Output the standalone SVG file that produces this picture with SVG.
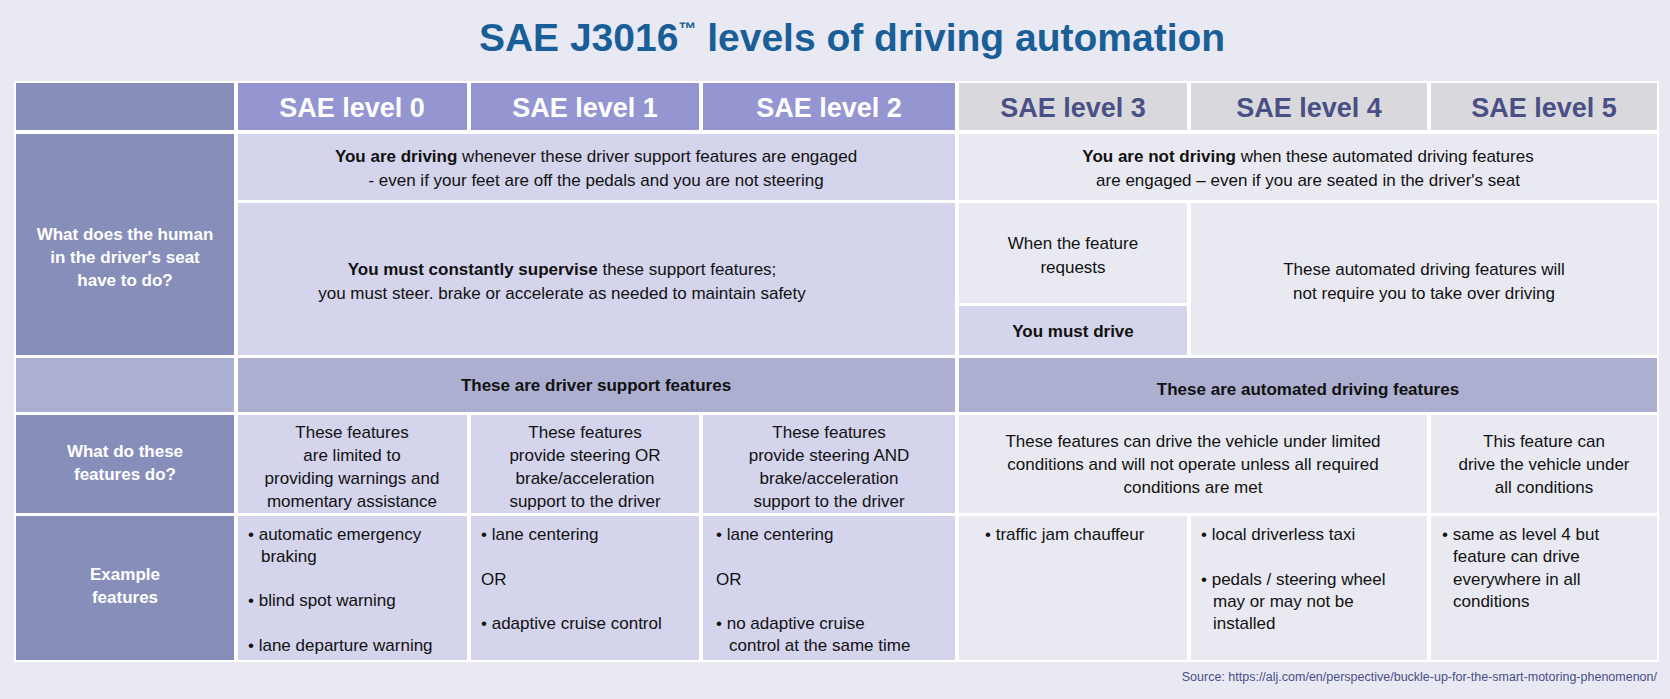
<svg xmlns="http://www.w3.org/2000/svg" width="1670" height="699" viewBox="0 0 1670 699">
<style>
text{font-family:"Liberation Sans",Arial,sans-serif;}
.lc{fill:#878EBA}.hp{fill:#9595D2}.hg{fill:#D9D9DD}.p{fill:#D4D4EC}.g{fill:#E9EAF1}.m{fill:#ACAFD0}
.ht{font-size:27px;font-weight:bold;text-anchor:middle}
.w{fill:#fff}.hd{fill:#4A4F85}
.t{font-size:17px;fill:#111;text-anchor:middle}
.l{font-size:17px;fill:#111}
.lb{font-size:17px;font-weight:bold;fill:#fff;text-anchor:middle}
b,.b{font-weight:bold}
</style>
<rect width="1670" height="699" fill="#E9E9F4"/>
<text x="852" y="51" font-size="39" font-weight="bold" fill="#1A5E97" text-anchor="middle">SAE J3016<tspan font-size="18" dy="-16">™</tspan><tspan dy="16"> levels of driving automation</tspan></text>
<rect x="14" y="81" width="1645" height="581" fill="#fff"/>
<g id="header">
<rect class="lc" x="16" y="83" width="218" height="47"/>
<rect class="hp" x="238" y="83" width="229" height="47"/><text class="ht w" x="352" y="117">SAE level 0</text>
<rect class="hp" x="471" y="83" width="228" height="47"/><text class="ht w" x="585" y="117">SAE level 1</text>
<rect class="hp" x="703" y="83" width="252" height="47"/><text class="ht w" x="829" y="117">SAE level 2</text>
<rect class="hg" x="959" y="83" width="228" height="47"/><text class="ht hd" x="1073" y="117">SAE level 3</text>
<rect class="hg" x="1191" y="83" width="236" height="47"/><text class="ht hd" x="1309" y="117">SAE level 4</text>
<rect class="hg" x="1431" y="83" width="226" height="47"/><text class="ht hd" x="1544" y="117">SAE level 5</text>
</g>
<g id="human">
<rect class="lc" x="16" y="134" width="218" height="221"/>
<text class="lb" x="125" y="240">What does the human</text>
<text class="lb" x="125" y="263">in the driver's seat</text>
<text class="lb" x="125" y="286">have to do?</text>
<rect class="p" x="238" y="134" width="717" height="66"/>
<text class="t" x="596" y="162"><tspan class="b">You are driving</tspan> whenever these driver support features are engaged</text>
<text class="t" x="596" y="186">- even if your feet are off the pedals and you are not steering</text>
<rect class="g" x="959" y="134" width="698" height="66"/>
<text class="t" x="1308" y="162"><tspan class="b">You are not driving</tspan> when these automated driving features</text>
<text class="t" x="1308" y="186">are engaged – even if you are seated in the driver's seat</text>
<rect class="p" x="238" y="203" width="717" height="152"/>
<text class="t" x="562" y="275"><tspan class="b">You must constantly supervise</tspan> these support features;</text>
<text class="t" x="562" y="299">you must steer. brake or accelerate as needed to maintain safety</text>
<rect class="g" x="959" y="203" width="228" height="100"/>
<text class="t" x="1073" y="249">When the feature</text>
<text class="t" x="1073" y="273">requests</text>
<rect class="p" x="959" y="306" width="228" height="49"/>
<text class="t b" x="1073" y="337">You must drive</text>
<rect class="g" x="1191" y="203" width="466" height="152"/>
<text class="t" x="1424" y="275">These automated driving features will</text>
<text class="t" x="1424" y="299">not require you to take over driving</text>
</g>
<g id="category">
<rect x="16" y="358" width="218" height="54" fill="#ABAFD0"/>
<rect class="m" x="238" y="358" width="717" height="54"/>
<text class="t b" x="596" y="391">These are driver support features</text>
<rect class="m" x="959" y="358" width="698" height="54"/>
<text class="t b" x="1308" y="395">These are automated driving features</text>
</g>
<g id="do">
<rect class="lc" x="16" y="415" width="218" height="98"/>
<text class="lb" x="125" y="457">What do these</text>
<text class="lb" x="125" y="480">features do?</text>
<rect class="p" x="238" y="415" width="229" height="98"/>
<text class="t" x="352" y="438">These features</text><text class="t" x="352" y="461">are limited to</text><text class="t" x="352" y="484">providing warnings and</text><text class="t" x="352" y="507">momentary assistance</text>
<rect class="p" x="471" y="415" width="228" height="98"/>
<text class="t" x="585" y="438">These features</text><text class="t" x="585" y="461">provide steering OR</text><text class="t" x="585" y="484">brake/acceleration</text><text class="t" x="585" y="507">support to the driver</text>
<rect class="p" x="703" y="415" width="252" height="98"/>
<text class="t" x="829" y="438">These features</text><text class="t" x="829" y="461">provide steering AND</text><text class="t" x="829" y="484">brake/acceleration</text><text class="t" x="829" y="507">support to the driver</text>
<rect class="g" x="959" y="415" width="468" height="98"/>
<text class="t" x="1193" y="447">These features can drive the vehicle under limited</text><text class="t" x="1193" y="470">conditions and will not operate unless all required</text><text class="t" x="1193" y="493">conditions are met</text>
<rect class="g" x="1431" y="415" width="226" height="98"/>
<text class="t" x="1544" y="447">This feature can</text><text class="t" x="1544" y="470">drive the vehicle under</text><text class="t" x="1544" y="493">all conditions</text>
</g>
<g id="examples">
<rect class="lc" x="16" y="516" width="218" height="144"/>
<text class="lb" x="125" y="580">Example</text>
<text class="lb" x="125" y="603">features</text>
<rect class="p" x="238" y="516" width="229" height="144"/>
<text class="l" x="248" y="540">• automatic emergency</text><text class="l" x="261" y="562">braking</text>
<text class="l" x="248" y="606">• blind spot warning</text>
<text class="l" x="248" y="651">• lane departure warning</text>
<rect class="p" x="471" y="516" width="228" height="144"/>
<text class="l" x="481" y="540">• lane centering</text>
<text class="l" x="481" y="585">OR</text>
<text class="l" x="481" y="629">• adaptive cruise control</text>
<rect class="p" x="703" y="516" width="252" height="144"/>
<text class="l" x="716" y="540">• lane centering</text>
<text class="l" x="716" y="585">OR</text>
<text class="l" x="716" y="629">• no adaptive cruise</text><text class="l" x="729" y="651">control at the same time</text>
<rect class="g" x="959" y="516" width="228" height="144"/>
<text class="l" x="985" y="540">• traffic jam chauffeur</text>
<rect class="g" x="1191" y="516" width="236" height="144"/>
<text class="l" x="1201" y="540">• local driverless taxi</text>
<text class="l" x="1201" y="585">• pedals / steering wheel</text><text class="l" x="1213" y="607">may or may not be</text><text class="l" x="1213" y="629">installed</text>
<rect class="g" x="1431" y="516" width="226" height="144"/>
<text class="l" x="1442" y="540">• same as level 4 but</text><text class="l" x="1453" y="562">feature can drive</text><text class="l" x="1453" y="585">everywhere in all</text><text class="l" x="1453" y="607">conditions</text>
</g>
<g id="connectors"/>
<text x="1657" y="681" font-size="12.5" fill="#4A4F85" text-anchor="end">Source: https://alj.com/en/perspective/buckle-up-for-the-smart-motoring-phenomenon/</text>
</svg>
